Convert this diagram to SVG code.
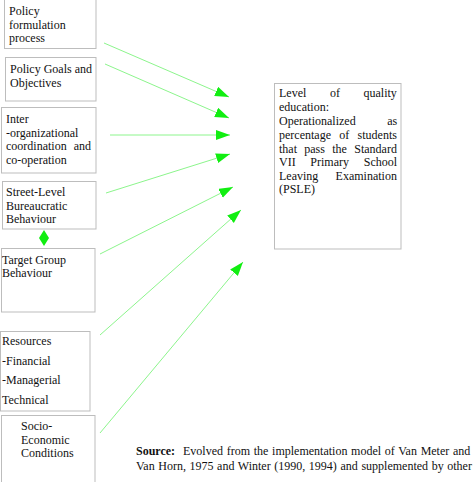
<svg xmlns="http://www.w3.org/2000/svg" width="474" height="482" viewBox="0 0 474 482">
<style>
.box{fill:#fff;stroke:#bdbdbd;stroke-width:1}
.t{font-family:"Liberation Serif","Times New Roman",serif;font-size:12px;fill:#111}
.c{stroke:#8cf58c;stroke-width:1;fill:none;marker-end:url(#ah)}
</style>
<defs>
<marker id="ah" markerUnits="userSpaceOnUse" markerWidth="15" markerHeight="11" refX="14" refY="5" orient="auto">
<path d="M0,0 L14,5 L0,10 z" fill="#11ee11"/>
</marker>
</defs>
<rect width="474" height="482" fill="#fff"/>
<g id="n1"><rect class="box" x="4.5" y="-5" width="91.5" height="53.5"/>
<text class="t" x="9" y="15">Policy</text><text class="t" x="9" y="28.5">formulation</text><text class="t" x="9" y="42">process</text></g>
<g id="n2"><rect class="box" x="5.5" y="57.5" width="90.5" height="43.5"/>
<text class="t" x="10" y="73">Policy Goals and</text><text class="t" x="10" y="86.5">Objectives</text></g>
<g id="n3"><rect class="box" x="1.5" y="107.5" width="94.5" height="65.5"/>
<text class="t" x="6" y="123">Inter</text><text class="t" x="6" y="136.5">-organizational</text><text class="t" x="6" y="150" word-spacing="4.1">coordination and</text><text class="t" x="6" y="163.5">co-operation</text></g>
<g id="n4"><rect class="box" x="2.5" y="181.5" width="93.5" height="47.5"/>
<text class="t" x="6" y="196">Street-Level</text><text class="t" x="6" y="209.5">Bureaucratic</text><text class="t" x="6" y="223">Behaviour</text></g>
<g id="n5"><rect class="box" x="1.5" y="248.5" width="93.5" height="63.5"/>
<text class="t" x="2" y="263.5">Target Group</text><text class="t" x="2" y="277">Behaviour</text></g>
<g id="n6"><rect class="box" x="0.5" y="331.5" width="89.5" height="79.5"/>
<text class="t" x="2" y="345">Resources</text><text class="t" x="2" y="364.5">-Financial</text><text class="t" x="2" y="384">-Managerial</text><text class="t" x="2" y="404">Technical</text></g>
<g id="n7"><rect class="box" x="1.5" y="415.5" width="93.5" height="80"/>
<text class="t" x="21" y="430">Socio-</text><text class="t" x="21" y="443.5">Economic</text><text class="t" x="21" y="457">Conditions</text></g>
<g id="n8"><rect class="box" x="274.5" y="83.5" width="126.5" height="165.5"/>
<text class="t" x="279" y="97" word-spacing="20.6">Level of quality</text>
<text class="t" x="279" y="111">education:</text>
<text class="t" x="279" y="125" word-spacing="28.6">Operationalized as</text>
<text class="t" x="279" y="139" word-spacing="5.3">percentage of students</text>
<text class="t" x="279" y="152.5" word-spacing="4.3">that pass the Standard</text>
<text class="t" x="279" y="166" word-spacing="11.7">VII Primary School</text>
<text class="t" x="279" y="179.5" word-spacing="14.3">Leaving Examination</text>
<text class="t" x="279" y="193">(PSLE)</text></g>
<g id="diamond"><path d="M44,230 L49,238 L44,246 L39,238 z" fill="#11ee11"/></g>
<g id="connectors">
<line class="c" x1="104" y1="43" x2="229" y2="97"/>
<line class="c" x1="105" y1="64" x2="229" y2="118"/>
<line class="c" x1="110" y1="135" x2="230" y2="135"/>
<line class="c" x1="106" y1="193" x2="230" y2="154"/>
<line class="c" x1="100" y1="254" x2="233" y2="187"/>
<line class="c" x1="100" y1="335" x2="241" y2="210"/>
<line class="c" x1="100" y1="433" x2="243" y2="262"/>
</g>
<g id="source">
<text class="t" x="136" y="455"><tspan font-weight="bold">Source:</tspan><tspan x="183" word-spacing="0.7">Evolved from the implementation model of Van Meter and</tspan></text>
<text class="t" x="136" y="470" word-spacing="0.6">Van Horn, 1975 and Winter (1990, 1994) and supplemented by other</text>
</g>
</svg>
